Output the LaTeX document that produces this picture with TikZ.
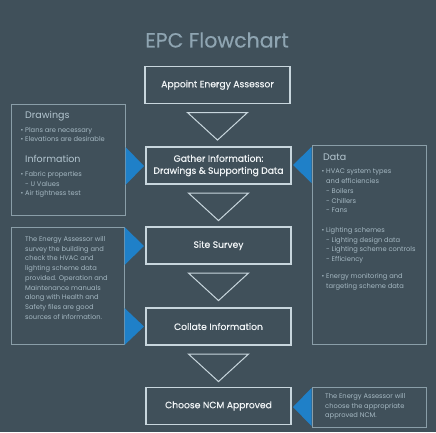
\documentclass[tikz,border=0pt]{standalone}
\usepackage{fontspec}
\setmainfont{Poppins}
\newfontfamily\medfont[FakeBold=0.35]{Poppins}
\usetikzlibrary{calc}
\definecolor{bg}{RGB}{64,80,90}
\definecolor{titlec}{RGB}{143,165,178}
\definecolor{mainline}{RGB}{200,214,221}
\definecolor{maintext}{RGB}{240,244,246}
\definecolor{panelline}{RGB}{138,158,168}
\definecolor{paneltext}{RGB}{165,184,194}
\definecolor{headtext}{RGB}{180,198,208}
\definecolor{arrowblue}{RGB}{31,128,200}
\tikzset{
  mainbox/.style={draw=mainline, line width=1.1pt, minimum width=145pt, minimum height=37pt, inner sep=0pt,
    text=maintext, align=center, font=\medfont\fontsize{9.2}{12}\selectfont},
  downtri/.style={draw=mainline, line width=1pt, line join=miter},
  panel/.style={draw=panelline, line width=0.8pt},
  ptext/.style={text=paneltext, align=left, anchor=north west, inner sep=0pt, font=\fontsize{6.7}{9.75}\selectfont},
  phead/.style={text=headtext, anchor=north west, inner sep=0pt, font=\fontsize{9.5}{11}\selectfont},
  bluearrow/.style={fill=arrowblue, draw=none}
}
\begin{document}
\begin{tikzpicture}[x=1pt,y=-1pt]
\fill[bg] (0,0) rectangle (436,432);
\useasboundingbox (0,0) rectangle (436,432);
% title
\node[text=titlec, font=\medfont\fontsize{20.5}{24}\selectfont] (title) at (217,40) {EPC Flowchart};
% main boxes
\node[mainbox] (b1) at (217.5,85) {Appoint Energy Assessor};
\node[mainbox] (b2) at (218.5,165.5) {Gather Information:\\Drawings \& Supporting Data};
\node[mainbox] (b3) at (218.5,245.5) {Site Survey};
\node[mainbox] (b4) at (218.5,326.5) {Collate Information};
\node[mainbox] (b5) at (218.5,406) {Choose NCM Approved};
% down triangles
\foreach \a in {b1,b2,b3,b4}{
  \draw[downtri] ($(\a.south)+(-30,8.5)$) -- ($(\a.south)+(30,8.5)$) -- ($(\a.south)+(0,36)$) -- cycle;
}
% side panels
\draw[panel] (11,104) rectangle (125,215) coordinate (p1);
\draw[panel] (11,227) rectangle (124,344) coordinate (p2);
\draw[panel] (312,145) rectangle (426,344) coordinate (p3);
\draw[panel] (312,387) rectangle (426,427) coordinate (p4);
% blue arrows
\fill[bluearrow] (125.5,147) -- (144,166) -- (125.5,185) -- cycle;
\fill[bluearrow] (124.5,227) -- (144,246) -- (124.5,265) -- cycle;
\fill[bluearrow] (124.5,308) -- (144,326.5) -- (124.5,345) -- cycle;
\fill[bluearrow] (311.5,147) -- (293,165) -- (311.5,183) -- cycle;
\fill[bluearrow] (311.5,388) -- (293,407) -- (311.5,426) -- cycle;
% panel 1 text
\node[phead] (h1) at (25,111) {Drawings};
\node[ptext] (t1) at (25,127) {\llap{•\ }Plans are necessary\\\llap{•\ }Elevations are desirable};
\node[phead] (h2) at (25,155) {Information};
\node[ptext] (t2) at (25,171) {\llap{•\ }Fabric properties\\- U Values\\\llap{•\ }Air tightness test};
% panel 2 text
\node[ptext] (t3) at (25,236) {The Energy Assessor will\\survey the building and\\check the HVAC and\\lighting scheme data\\provided. Operation and\\Maintenance manuals\\along with Health and\\Safety files are good\\sources of information.};
% panel 3 text
\node[phead] (h3) at (323,154) {Data};
\node[ptext] (t4) at (326,169) {\llap{•\ }HVAC system types\\and efficiencies\\- Boilers\\- Chillers\\- Fans\\[9.7pt]\llap{•\ }Lighting schemes\\- Lighting design data\\- Lighting scheme controls\\- Efficiency\\[7pt]\llap{•\ }Energy monitoring and\\targeting scheme data};
% panel 4 text
\node[ptext] (t5) at (325,393) {The Energy Assessor will\\choose the appropriate\\approved NCM.};
\end{tikzpicture}
\end{document}
